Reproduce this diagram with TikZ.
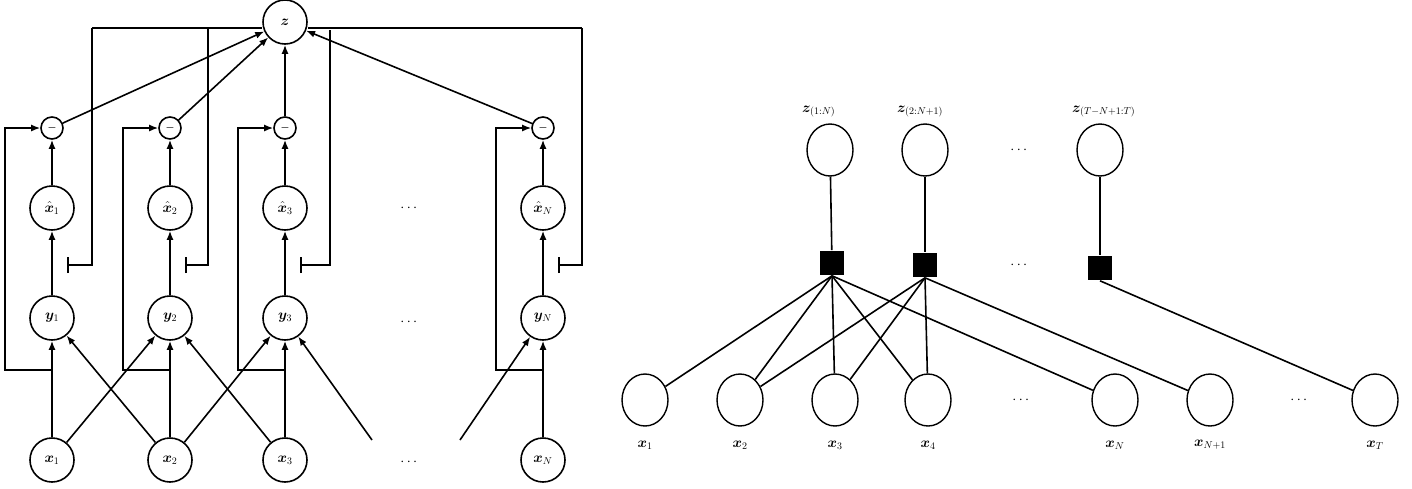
\documentclass[tikz,border=0pt]{standalone}
\usepackage{amsmath,amssymb,bm}
\usetikzlibrary{arrows.meta,shapes.geometric}
\begin{document}
\begin{tikzpicture}[x=1pt,y=-1pt,line width=1.6pt,
  nd/.style={circle,draw,minimum size=44pt,inner sep=0pt,font=\Large},
  mn/.style={circle,draw,minimum size=22pt,inner sep=0pt},
  rn/.style={ellipse,draw,minimum width=46pt,minimum height=52pt,inner sep=0pt,line width=1.4pt},
  fac/.style={rectangle,fill=black,minimum size=24pt,inner sep=0pt},
  ar/.style={-{Latex[length=9pt,width=7pt]}},
  tb/.style={-{Bar[width=16pt]}},
  lb/.style={font=\Large},
  dots/.style={font=\Large}]
\useasboundingbox (0,0) rectangle (1412,488);
% left diagram
\node[nd] (z) at (285,22) {$\bm z$};
\foreach \i/\x/\s in {1/52/1,2/170/2,3/285/3,4/543/N}{
  \node[mn] (m\i) at (\x,128) {$\bm -$};
  \node[nd] (h\i) at (\x,208) {$\hat{\bm x}_{\s}$};
  \node[nd] (y\i) at (\x,318) {$\bm y_{\s}$};
  \node[nd] (x\i) at (\x,460) {$\bm x_{\s}$};
  \coordinate (j\i) at (\x,370);
  \draw[ar] (h\i) -- (m\i);
  \draw[ar] (y\i) -- (h\i);
  \draw (x\i) -- (j\i);
  \draw[ar] (j\i) -- (y\i);
  \draw[ar] (j\i) -| (\x-47,128) -- (m\i);
  \draw[ar] (m\i) -- (z);
}
\node[dots] at (410,208) {$\cdots$};
\node[dots] at (410,322) {$\cdots$};
\node[dots] at (410,462) {$\cdots$};
% feedback
\coordinate (f1) at (92,28); \coordinate (f2) at (208,28);
\coordinate (f3) at (330,30); \coordinate (f4) at (582,28);
\draw (z.west|-f1) -- (f1);
\draw (z.east|-f4) -- (f4);
\draw[tb] (f1) |- (67,265);
\draw[tb] (f2) |- (185,265);
\draw[tb] (f3) |- (300,265);
\draw[tb] (f4) |- (558,265);
% cross connections
\draw[ar] (x1) -- (y2);
\draw[ar] (x2) -- (y1);
\draw[ar] (x2) -- (y3);
\draw[ar] (x3) -- (y2);
\coordinate (dl) at (372,440); \coordinate (dr) at (460,440);
\draw[ar] (dl) -- (y3);
\draw[ar] (dr) -- (y4);
% right diagram
\foreach \i/\x/\l in {1/830/{(1:N)},2/925/{(2:N+1)},3/1100/{(T-N+1:T)}}{
  \node[rn] (z\i) at (\x,150) {};
  \node[lb,anchor=base west] at (\x-32,112) {$\bm z_{\l}$};
}
\node[fac] (g1) at (832,263) {};
\node[fac] (g2) at (925,265) {};
\node[fac] (g3) at (1100,268) {};
\foreach \i in {1,2,3}{\draw (z\i) -- (g\i);}
\node[dots] at (1020,150) {$\cdots$};
\node[dots] at (1020,265) {$\cdots$};
\foreach \i/\x/\s in {1/645/1,2/740/2,3/835/3,4/928/4,5/1115/N,6/1210/{N+1},7/1375/T}{
  \node[rn] (r\i) at (\x,400) {};
  \node[lb] at (\x,445) {$\bm x_{\s}$};
}
\node[dots] at (1022,400) {$\cdots$};
\node[dots] at (1300,400) {$\cdots$};
\foreach \t in {1,2,3,4,5}{\draw (g1.south) -- (r\t);}
\foreach \t in {2,3,4,6}{\draw (g2.south) -- (r\t);}
\draw (g3.south) -- (r7);
\end{tikzpicture}
\end{document}
